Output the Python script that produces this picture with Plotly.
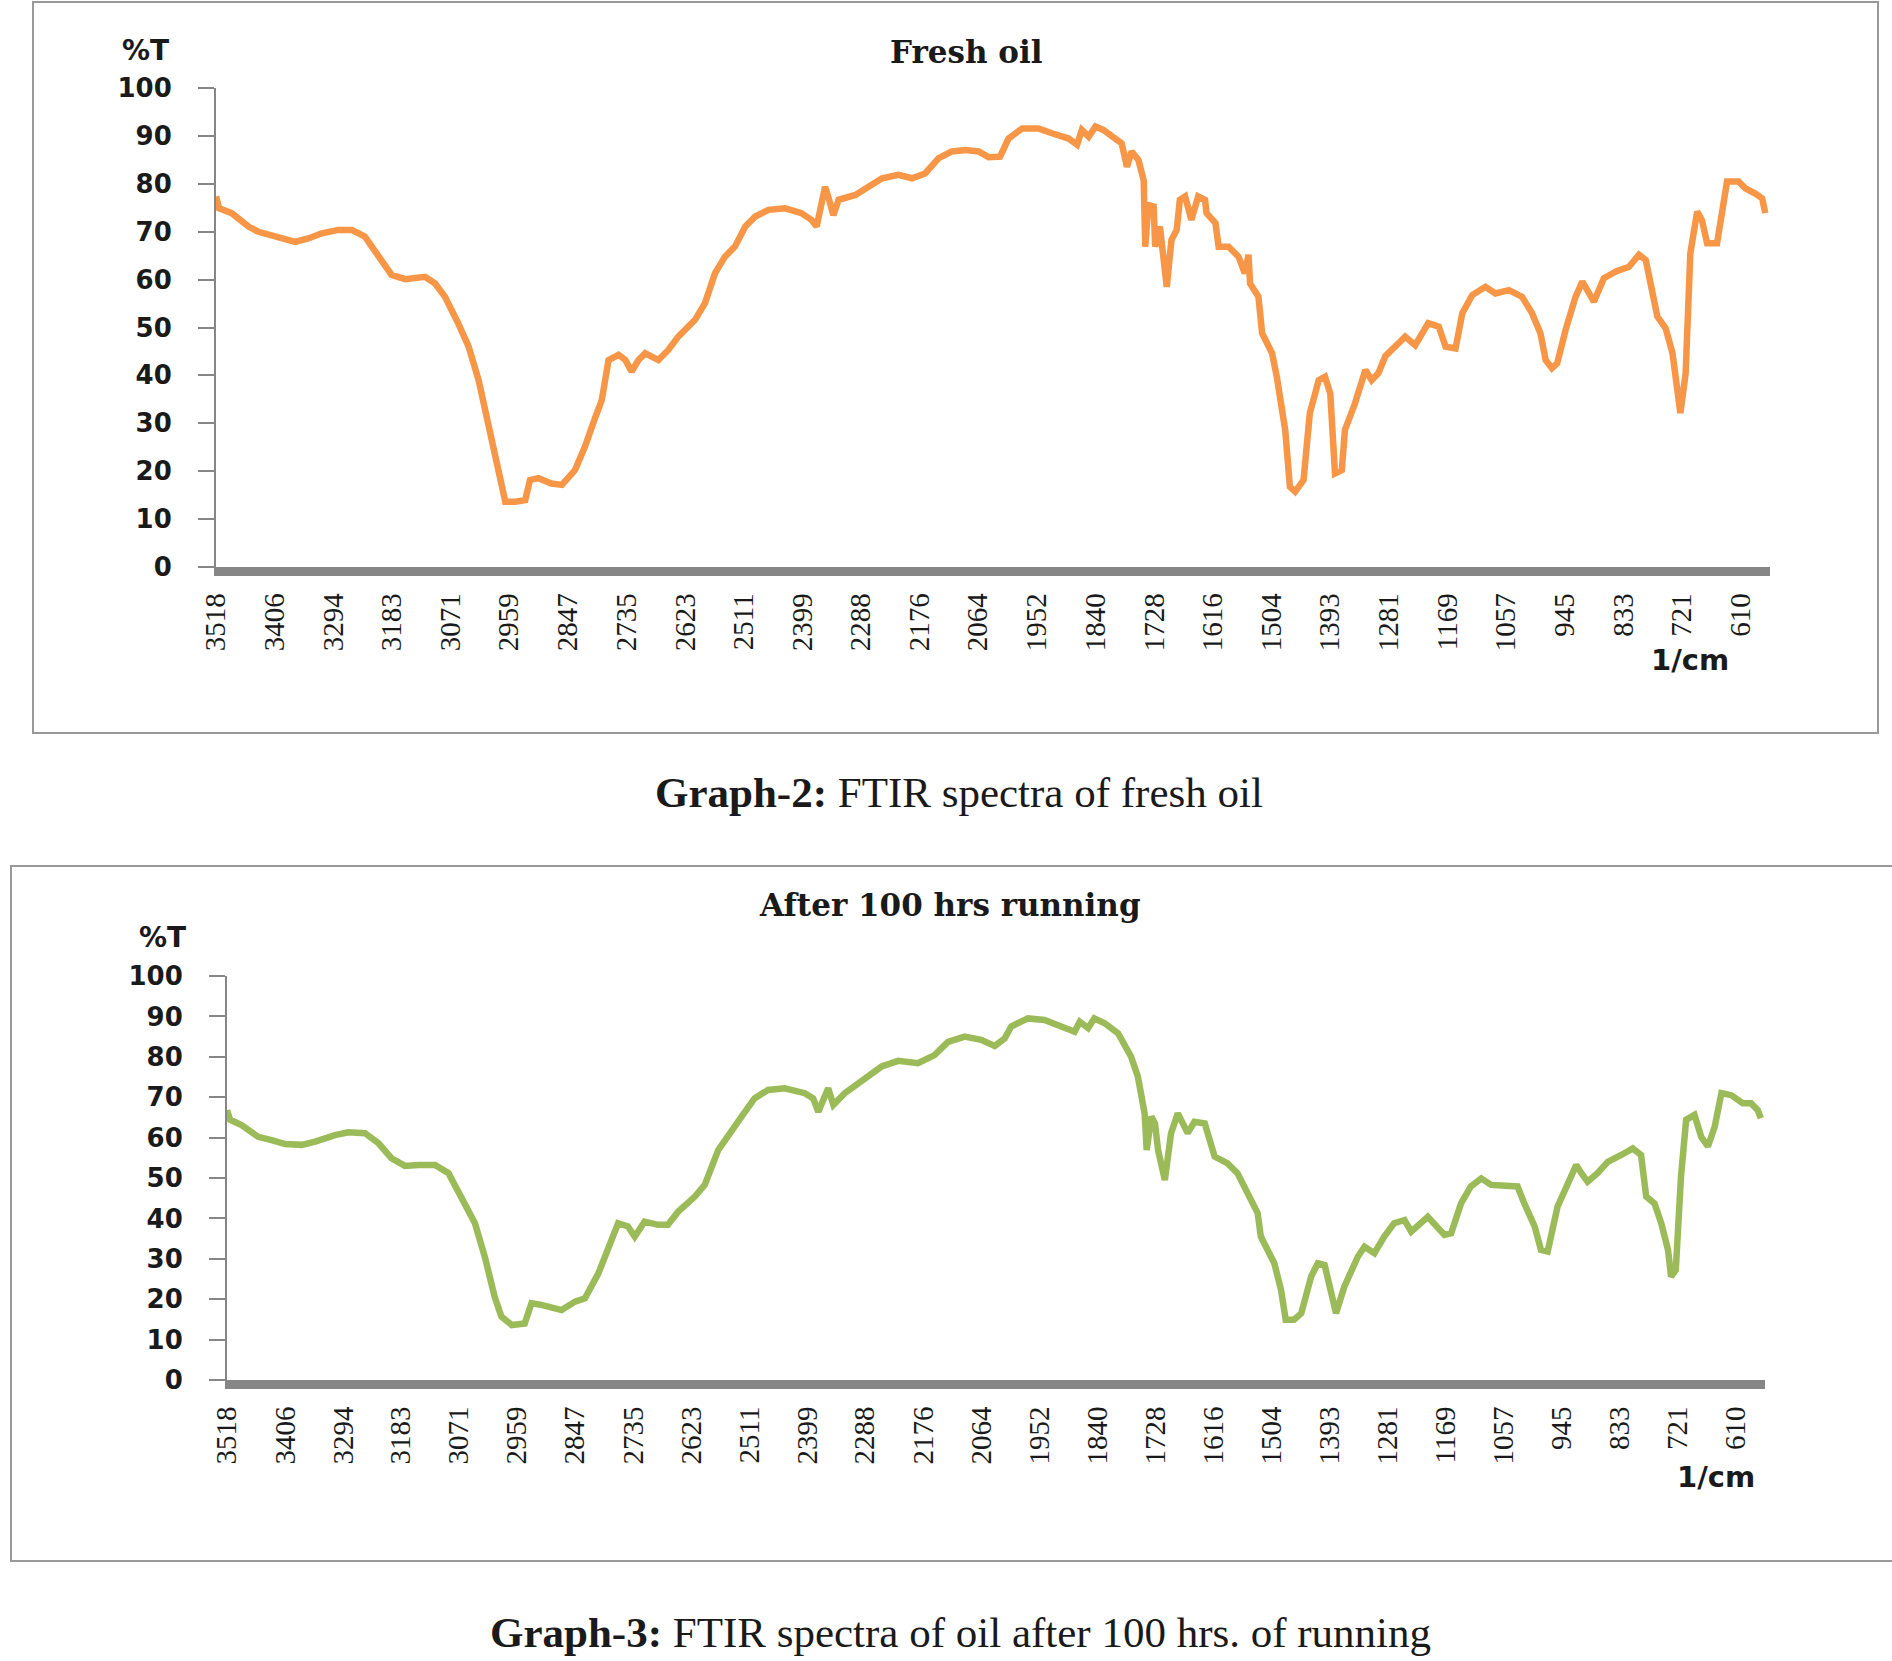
import plotly.graph_objects as go

W, H = 1892, 1661

# ---- data: wavenumber (1/cm) and %T ----
fresh_wn = [3518, 3512, 3488, 3456, 3437, 3412, 3386, 3367, 3342, 3316, 3285, 3259, 3234, 3215, 3195,
            3183, 3157, 3119, 3100, 3081, 3056, 3036, 3017, 2998, 2979, 2966, 2947, 2928, 2919, 2903,
            2878, 2858, 2833, 2814, 2795, 2782, 2769, 2750, 2737, 2725, 2712, 2699, 2674, 2655, 2636,
            2604, 2585, 2566, 2547, 2528, 2508, 2489, 2464, 2432, 2401, 2382, 2372, 2356, 2350, 2340,
            2330, 2298, 2273, 2247, 2216, 2190, 2165, 2139, 2114, 2088, 2063, 2044, 2022, 2006, 1980,
            1949, 1923, 1891, 1875, 1866, 1853, 1840, 1825, 1809, 1790, 1780, 1771, 1758, 1748, 1745,
            1739, 1729, 1726, 1717, 1704, 1695, 1685, 1679, 1669, 1657, 1644, 1631, 1628, 1611, 1605,
            1586, 1567, 1555, 1548, 1545, 1529, 1522, 1503, 1494, 1478, 1469, 1459, 1443, 1431, 1414,
            1402, 1392, 1383, 1370, 1364, 1345, 1325, 1313, 1300, 1287, 1268, 1249, 1230, 1205, 1185,
            1172, 1153, 1140, 1121, 1096, 1077, 1051, 1026, 1007, 991, 981, 969, 959, 943, 924,
            911, 898, 889, 870, 847, 822, 803, 790, 777, 768, 752, 739, 724, 714, 705,
            692, 683, 673, 654, 645, 635, 613, 600, 581, 568, 562]
fresh_t = [77.4, 74.9, 73.9, 71.1, 70.0, 69.3, 68.3, 67.9, 68.6, 69.7, 70.4, 70.4, 69.0, 66.2, 62.7,
           61.0, 60.1, 60.6, 59.2, 56.4, 50.9, 46.0, 39.0, 29.3, 19.5, 13.6, 13.6, 13.9, 18.1, 18.5,
           17.4, 17.1, 20.2, 25.1, 31.0, 34.8, 43.2, 44.3, 43.2, 40.8, 43.2, 44.6, 43.2, 45.3, 48.1,
           51.6, 55.1, 61.3, 64.8, 66.9, 71.1, 73.2, 74.6, 74.9, 73.9, 72.5, 71.1, 79.4, 77.4, 73.5,
           76.7, 77.7, 79.4, 81.2, 81.9, 81.2, 82.2, 85.4, 86.8, 87.1, 86.8, 85.6, 85.7, 89.5, 91.6,
           91.6, 90.6, 89.5, 88.2, 91.3, 89.9, 92.0, 91.3, 89.9, 88.5, 83.6, 86.8, 85.0, 80.8, 66.9,
           75.6, 75.3, 66.9, 71.1, 58.5, 68.3, 70.4, 76.7, 77.4, 72.5, 77.4, 76.7, 73.9, 71.8, 66.9,
           66.9, 64.8, 61.3, 65.2, 59.2, 56.4, 48.8, 44.6, 39.7, 28.6, 16.7, 15.7, 18.1, 32.1, 39.0,
           39.7, 36.2, 19.5, 20.2, 28.6, 34.1, 41.1, 39.0, 40.5, 44.0, 46.0, 48.1, 46.3, 50.9, 50.2,
           46.0, 45.6, 53.0, 56.8, 58.5, 57.1, 57.8, 56.4, 53.0, 48.8, 43.2, 41.5, 42.5, 49.5, 56.4,
           59.6, 57.1, 55.4, 60.3, 61.7, 62.7, 65.2, 64.1, 57.1, 52.3, 49.8, 44.6, 32.1, 40.4, 65.5,
           74.2, 72.5, 67.6, 67.6, 73.9, 80.5, 80.5, 79.1, 78.0, 77.0, 73.9]

run_wn = [3518, 3512, 3490, 3458, 3432, 3406, 3374, 3348, 3310, 3284, 3252, 3226, 3201, 3175, 3149,
          3117, 3091, 3066, 3040, 3021, 3002, 2989, 2969, 2944, 2931, 2912, 2873, 2847, 2828, 2802,
          2783, 2770, 2764, 2745, 2732, 2713, 2687, 2668, 2648, 2616, 2597, 2571, 2552, 2526, 2501,
          2475, 2443, 2404, 2388, 2378, 2359, 2349, 2327, 2288, 2256, 2224, 2186, 2154, 2128, 2096,
          2064, 2038, 2019, 2006, 1974, 1942, 1910, 1884, 1874, 1858, 1846, 1826, 1800, 1784, 1775,
          1762, 1749, 1745, 1736, 1729, 1723, 1710, 1698, 1685, 1666, 1653, 1633, 1614, 1589, 1570,
          1551, 1531, 1525, 1499, 1486, 1477, 1461, 1447, 1428, 1415, 1402, 1390, 1380, 1364, 1338,
          1325, 1306, 1287, 1268, 1248, 1235, 1203, 1184, 1171, 1158, 1139, 1120, 1100, 1081, 1055,
          1030, 1017, 997, 985, 972, 953, 933, 917, 907, 895, 876, 856, 830, 808, 792,
          782, 766, 753, 740, 734, 725, 715, 705, 689, 676, 663, 650, 637, 618, 596,
          580, 567, 561]
run_t = [66.8, 64.4, 63.1, 60.2, 59.4, 58.4, 58.2, 59.0, 60.6, 61.3, 61.1, 58.6, 54.9, 53.0, 53.2,
         53.2, 51.2, 45.4, 38.8, 30.5, 20.6, 15.7, 13.6, 14.0, 19.0, 18.6, 17.3, 19.4, 20.2, 26.4,
         33.0, 37.5, 38.8, 38.0, 35.5, 39.2, 38.4, 38.4, 41.7, 45.4, 48.3, 56.9, 60.6, 65.2, 69.7,
         71.8, 72.2, 71.0, 69.7, 66.4, 72.2, 68.1, 71.0, 74.7, 77.6, 79.0, 78.4, 80.4, 83.7, 85.0,
         84.2, 82.7, 84.5, 87.5, 89.5, 89.1, 87.5, 86.2, 88.7, 87.1, 89.5, 88.3, 85.8, 81.7, 80.0,
         75.1, 66.0, 56.9, 65.2, 63.5, 56.9, 49.5, 61.1, 66.0, 61.1, 63.9, 63.5, 55.3, 53.6, 51.2,
         46.2, 41.3, 35.5, 28.9, 22.3, 14.9, 14.9, 16.5, 25.6, 28.9, 28.5, 21.5, 16.5, 23.1, 30.5,
         33.0, 31.4, 35.5, 38.8, 39.6, 36.7, 40.4, 37.5, 35.9, 36.3, 43.7, 47.9, 49.9, 48.3, 47.9,
         47.9, 43.7, 38.0, 32.2, 31.8, 42.9, 48.7, 53.2, 51.2, 49.1, 51.2, 54.0, 55.7, 57.3, 55.7,
         45.4, 43.7, 38.8, 32.2, 25.6, 27.2, 50.3, 64.4, 65.6, 60.2, 57.8, 62.7, 71.0, 70.5, 68.5,
         68.5, 66.8, 64.8]

x_ticks = [3518, 3406, 3294, 3183, 3071, 2959, 2847, 2735, 2623, 2511, 2399, 2288, 2176, 2064,
           1952, 1840, 1728, 1616, 1504, 1393, 1281, 1169, 1057, 945, 833, 721, 610]
y_ticks = [0, 10, 20, 30, 40, 50, 60, 70, 80, 90, 100]

titles = ["Fresh oil", "After 100 hrs running"]
captions = ["<b>Graph-2:</b> FTIR spectra of fresh oil",
            "<b>Graph-3:</b> FTIR spectra of oil after 100 hrs. of running"]

ORANGE = "#F79646"
GREEN = "#9BBB59"
AXIS_GRAY = "#868686"
TEXT = "#1a1a1a"


def px_x(p):
    return p / W


def px_y(p):
    return 1 - p / H


fig = go.Figure()
fig.add_trace(go.Scatter(x=fresh_wn, y=fresh_t, mode="lines",
                         line=dict(color=ORANGE, width=6.5), xaxis="x", yaxis="y",
                         showlegend=False, hoverinfo="x+y"))
fig.add_trace(go.Scatter(x=run_wn, y=run_t, mode="lines",
                         line=dict(color=GREEN, width=6.5), xaxis="x2", yaxis="y2",
                         showlegend=False, hoverinfo="x+y"))

xcommon = dict(range=[3518, 553], tickmode="array", tickvals=x_ticks,
               ticktext=[str(v) for v in x_ticks], tickangle=-90, automargin=False,
               tickfont=dict(family="Liberation Serif", size=29, color=TEXT),
               showgrid=False, zeroline=False, showline=True, linewidth=9,
               linecolor=AXIS_GRAY, ticks="", ticklabelstandoff=6)
ycommon = dict(range=[0, 100], tickmode="array", tickvals=y_ticks, automargin=False,
               tickfont=dict(family="DejaVu Sans", size=26, color=TEXT, weight="bold"),
               showgrid=False, zeroline=False, showline=True, linewidth=2,
               linecolor=AXIS_GRAY, ticks="outside", ticklen=16, tickwidth=2,
               tickcolor=AXIS_GRAY, ticklabelstandoff=21)

fig.update_layout(
    template="none",
    width=W, height=H, margin=dict(l=0, r=0, t=0, b=0, pad=0),
    paper_bgcolor="white", plot_bgcolor="white",
    xaxis=dict(domain=[px_x(216), px_x(1770)], anchor="y", **xcommon),
    yaxis=dict(domain=[px_y(566.7), px_y(88.3)], anchor="x", **ycommon),
    xaxis2=dict(domain=[px_x(227), px_x(1765)], anchor="y2", **xcommon),
    yaxis2=dict(domain=[px_y(1380), px_y(976)], anchor="x2", **ycommon),
)

# chart frames
fig.add_shape(type="rect", xref="paper", yref="paper",
              x0=px_x(33), x1=px_x(1878), y0=px_y(733), y1=px_y(2),
              line=dict(color="#999999", width=2), fillcolor="rgba(0,0,0,0)", layer="below")
fig.add_shape(type="rect", xref="paper", yref="paper",
              x0=px_x(11), x1=px_x(1900), y0=px_y(1561), y1=px_y(866),
              line=dict(color="#999999", width=2), fillcolor="rgba(0,0,0,0)", layer="below")


def ann(text, x, y, size, family, bold=False, color=TEXT):
    fig.add_annotation(text=text, xref="paper", yref="paper", x=px_x(x), y=px_y(y),
                       xanchor="center", yanchor="middle", showarrow=False,
                       font=dict(family=family, size=size, color=color,
                                 weight="bold" if bold else "normal"))


# chart titles
ann(titles[0], 967, 52, 31, "DejaVu Serif", bold=True)
ann(titles[1], 950, 905, 31, "DejaVu Serif", bold=True)
# axis unit labels
ann("%T", 145, 50, 28, "DejaVu Sans", bold=True)
ann("%T", 162, 937, 28, "DejaVu Sans", bold=True)
ann("1/cm", 1690, 660, 29, "DejaVu Sans", bold=True)
ann("1/cm", 1716, 1477, 29, "DejaVu Sans", bold=True)
# captions
ann(captions[0], 959, 793, 43, "Liberation Serif")
ann(captions[1], 960, 1632, 43, "Liberation Serif")

fig.write_html("out.html")
